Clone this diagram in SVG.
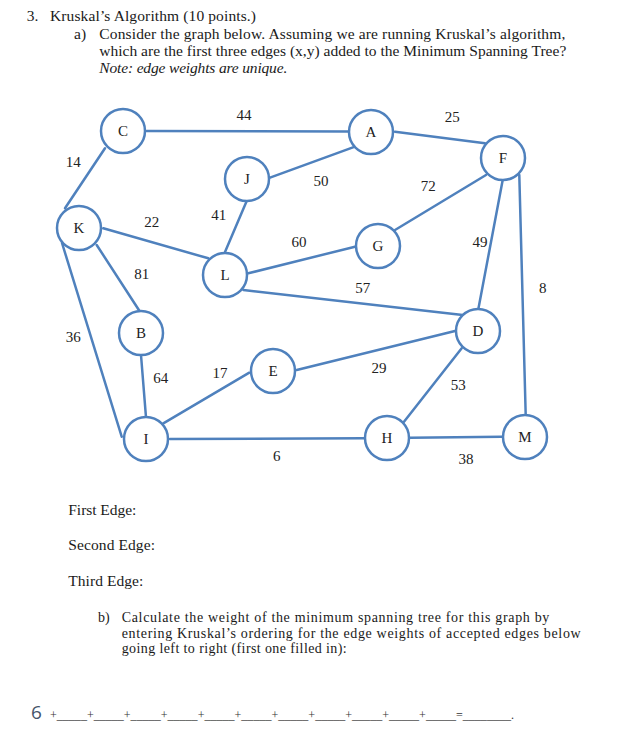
<svg xmlns="http://www.w3.org/2000/svg" width="642" height="740" viewBox="0 0 642 740">
<style>
.t{font-family:"Liberation Serif","Times New Roman",serif;font-size:15.5px;fill:#1a1a1a}
.tb{font-family:"Liberation Serif","Times New Roman",serif;font-size:14px;fill:#1a1a1a}
.i{font-style:italic}
.lbl{font-family:"Liberation Serif","Times New Roman",serif;font-size:15px;fill:#222;text-anchor:middle}
.node circle{fill:#fff;stroke:#4f81bd;stroke-width:2.5}
.edges line{stroke:#4f81bd;stroke-width:2.5;stroke-linecap:round}
</style>
<rect width="642" height="740" fill="#fff"/>
<g id="header">
<text class="t" x="26.7" y="20.7">3.</text>
<text class="t" x="50" y="20.7" textLength="206">Kruskal’s Algorithm (10 points.)</text>
<text class="t" x="74" y="38.5">a)</text>
<text class="t" x="99.3" y="38.5" textLength="466">Consider the graph below.  Assuming we are running Kruskal’s algorithm,</text>
<text class="t" x="99.3" y="56" textLength="467">which are the first three edges (x,y) added to the Minimum Spanning Tree?</text>
<text class="t i" x="99.3" y="72.7" textLength="188">Note: edge weights are unique.</text>
</g>
<g class="edges" id="connectors">
<line x1="146.7" y1="131" x2="348.3" y2="131.5"/>
<line x1="105" y1="148.3" x2="65" y2="208.3"/>
<line x1="103.3" y1="228.3" x2="208.3" y2="258.3"/>
<line x1="96.7" y1="245" x2="140" y2="311.7"/>
<line x1="62" y1="243" x2="121.7" y2="436.7"/>
<line x1="246.7" y1="201" x2="225" y2="252"/>
<line x1="270" y1="177.7" x2="355" y2="146.7"/>
<line x1="248.3" y1="273.3" x2="355" y2="246.7"/>
<line x1="243.3" y1="290" x2="462.7" y2="315"/>
<line x1="395" y1="131.7" x2="485" y2="143.3"/>
<line x1="486" y1="175" x2="395" y2="230"/>
<line x1="502.7" y1="180" x2="478.3" y2="309.3"/>
<line x1="519.3" y1="175" x2="525.7" y2="415"/>
<line x1="141" y1="355" x2="146" y2="417.3"/>
<line x1="163.3" y1="423.3" x2="249.3" y2="372.7"/>
<line x1="296.7" y1="370" x2="455" y2="331"/>
<line x1="170" y1="439" x2="364" y2="438.3"/>
<line x1="404" y1="421.7" x2="461.7" y2="348.3"/>
<line x1="410" y1="437.7" x2="501.7" y2="436.7"/>
</g>
<g id="edge-labels">
<text class="lbl" x="244" y="120">44</text>
<text class="lbl" x="73.3" y="166.7">14</text>
<text class="lbl" x="321" y="186">50</text>
<text class="lbl" x="151.7" y="226.7">22</text>
<text class="lbl" x="218.7" y="220">41</text>
<text class="lbl" x="299" y="246.7">60</text>
<text class="lbl" x="141.7" y="279">81</text>
<text class="lbl" x="452.3" y="122.3">25</text>
<text class="lbl" x="428.3" y="190.7">72</text>
<text class="lbl" x="480" y="247.3">49</text>
<text class="lbl" x="362.7" y="293.3">57</text>
<text class="lbl" x="542.7" y="293.3">8</text>
<text class="lbl" x="73.3" y="342.3">36</text>
<text class="lbl" x="160.7" y="383.3">64</text>
<text class="lbl" x="220" y="378.3">17</text>
<text class="lbl" x="276.7" y="461">6</text>
<text class="lbl" x="379" y="372.7">29</text>
<text class="lbl" x="458.3" y="390">53</text>
<text class="lbl" x="466" y="464">38</text>
</g>
<g class="node" id="node-C"><circle cx="123" cy="131" r="22"/><text class="lbl" x="123" y="136">C</text></g>
<g class="node" id="node-A"><circle cx="371" cy="132" r="22"/><text class="lbl" x="371" y="137">A</text></g>
<g class="node" id="node-F"><circle cx="503" cy="158" r="22"/><text class="lbl" x="503" y="163">F</text></g>
<g class="node" id="node-J"><circle cx="247" cy="179" r="22"/><text class="lbl" x="247" y="184">J</text></g>
<g class="node" id="node-K"><circle cx="79" cy="228" r="22"/><text class="lbl" x="79" y="233">K</text></g>
<g class="node" id="node-G"><circle cx="378" cy="246" r="22"/><text class="lbl" x="378" y="251">G</text></g>
<g class="node" id="node-L"><circle cx="225" cy="275" r="22"/><text class="lbl" x="225" y="280">L</text></g>
<g class="node" id="node-B"><circle cx="141" cy="333" r="22"/><text class="lbl" x="141" y="338">B</text></g>
<g class="node" id="node-D"><circle cx="478" cy="331" r="22"/><text class="lbl" x="478" y="336">D</text></g>
<g class="node" id="node-E"><circle cx="273" cy="371" r="22"/><text class="lbl" x="273" y="376">E</text></g>
<g class="node" id="node-I"><circle cx="146" cy="439" r="22"/><text class="lbl" x="146" y="444">I</text></g>
<g class="node" id="node-H"><circle cx="387" cy="438" r="22"/><text class="lbl" x="387" y="443">H</text></g>
<g class="node" id="node-M"><circle cx="525" cy="437" r="22"/><text class="lbl" x="525" y="442">M</text></g>
<g id="part-a-answers">
<text class="t" x="68.3" y="515" textLength="68">First Edge:</text>
<text class="t" x="68.3" y="550" textLength="86.7">Second Edge:</text>
<text class="t" x="68.3" y="585.5" textLength="75">Third Edge:</text>
</g>
<g id="part-b">
<text class="tb" x="98" y="622">b)</text>
<text class="tb" x="121.7" y="622" textLength="427.6">Calculate the weight of the minimum spanning tree for this graph by</text>
<text class="tb" x="121.7" y="637.5" textLength="459">entering Kruskal’s ordering for the edge weights of accepted edges below</text>
<text class="tb" x="121.7" y="653" textLength="225">going left to right (first one filled in):</text>
<text x="31" y="719" style="font-family:'Open Sans','Liberation Sans',sans-serif;font-size:19px;fill:#44546a">6</text>
<text x="50" y="718.5" style="font-family:'Liberation Serif','Times New Roman',serif;font-size:13px;fill:#333" textLength="464" lengthAdjust="spacingAndGlyphs">+_____+_____+_____+_____+_____+_____+_____+_____+_____+_____+_____=________.</text>
</g>
</svg>
